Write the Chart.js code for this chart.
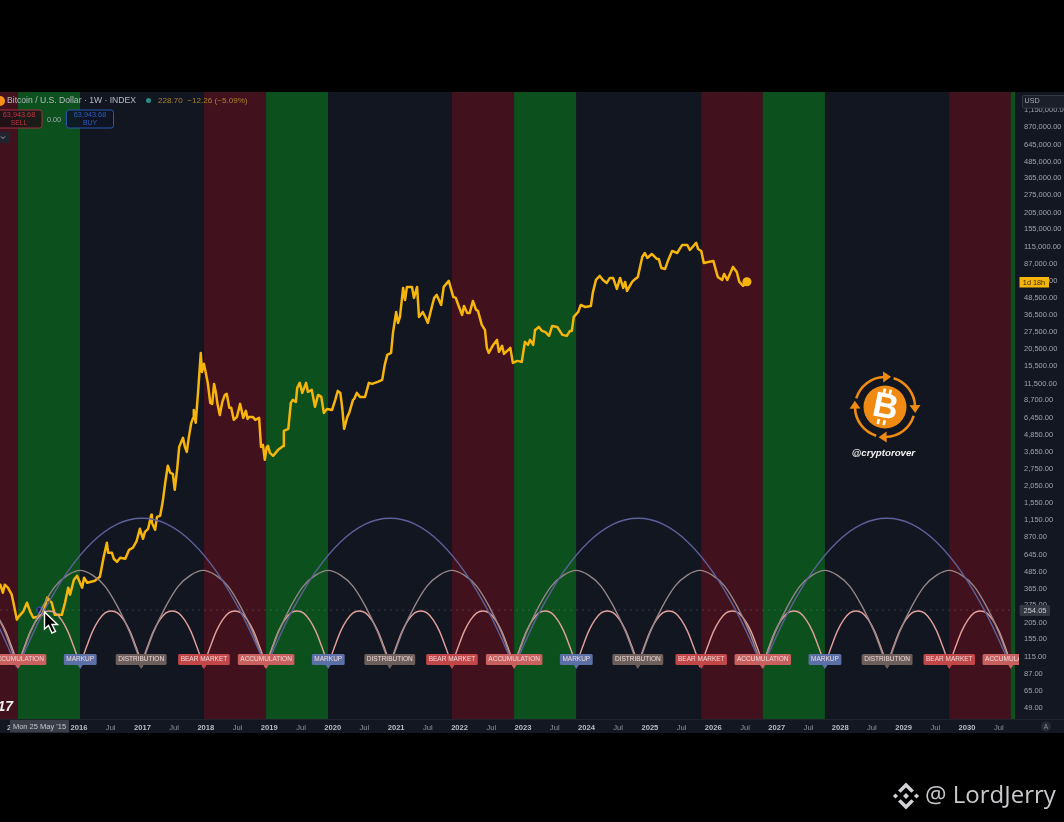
<!DOCTYPE html>
<html>
<head>
<meta charset="utf-8">
<title>Bitcoin cycle chart</title>
<script src="https://cdn.jsdelivr.net/npm/chart.js@4/dist/chart.umd.js"></script>
<style>
    html, body { margin: 0; padding: 0; background: #000; overflow: hidden; }
    canvas { display: block; filter: blur(0.35px); }
</style>
</head>
<body>
<canvas id="cycleChart" width="1064" height="822"></canvas>
<script>

// weekly close
var priceYears = [2014.76,2014.80,2014.83,2014.88,2014.94,2014.98,2015.02,2015.05,2015.12,2015.18,2015.23,2015.28,2015.35,2015.42,2015.45,2015.50,2015.57,2015.62,2015.73,2015.78,2015.83,2015.86,2015.92,2015.97,2016.05,2016.08,2016.13,2016.25,2016.33,2016.39,2016.44,2016.46,2016.52,2016.55,2016.60,2016.65,2016.73,2016.79,2016.85,2016.91,2016.96,2017.01,2017.04,2017.09,2017.14,2017.15,2017.20,2017.23,2017.28,2017.32,2017.36,2017.40,2017.44,2017.48,2017.51,2017.55,2017.58,2017.64,2017.67,2017.70,2017.73,2017.77,2017.80,2017.81,2017.84,2017.88,2017.92,2017.94,2017.97,2018.00,2018.03,2018.07,2018.10,2018.13,2018.16,2018.18,2018.22,2018.26,2018.30,2018.33,2018.37,2018.40,2018.44,2018.49,2018.54,2018.59,2018.63,2018.66,2018.68,2018.74,2018.78,2018.84,2018.87,2018.90,2018.93,2018.96,2018.98,2019.01,2019.06,2019.14,2019.22,2019.23,2019.30,2019.34,2019.37,2019.42,2019.44,2019.48,2019.52,2019.58,2019.61,2019.67,2019.72,2019.77,2019.82,2019.86,2019.91,2019.99,2020.04,2020.08,2020.12,2020.15,2020.18,2020.23,2020.26,2020.32,2020.34,2020.38,2020.43,2020.51,2020.54,2020.57,2020.62,2020.71,2020.78,2020.82,2020.86,2020.92,2020.95,2021.00,2021.03,2021.06,2021.11,2021.14,2021.17,2021.25,2021.28,2021.33,2021.36,2021.42,2021.46,2021.50,2021.57,2021.60,2021.64,2021.71,2021.75,2021.83,2021.90,2021.94,2021.98,2022.04,2022.07,2022.12,2022.16,2022.21,2022.26,2022.29,2022.35,2022.40,2022.43,2022.46,2022.53,2022.59,2022.62,2022.67,2022.70,2022.80,2022.84,2022.91,2022.98,2023.03,2023.08,2023.11,2023.16,2023.19,2023.25,2023.30,2023.35,2023.41,2023.46,2023.54,2023.62,2023.69,2023.74,2023.77,2023.80,2023.87,2023.91,2023.98,2024.07,2024.10,2024.15,2024.21,2024.26,2024.32,2024.37,2024.42,2024.48,2024.53,2024.58,2024.61,2024.64,2024.72,2024.77,2024.81,2024.88,2024.92,2024.96,2025.03,2025.11,2025.14,2025.18,2025.24,2025.29,2025.35,2025.43,2025.51,2025.59,2025.63,2025.73,2025.76,2025.81,2025.85,2025.92,2026.00,2026.07,2026.14,2026.17,2026.22,2026.31,2026.37,2026.41,2026.47,2026.53];
var priceValues = [389,340,389,370,329,268,216,227,247,287,247,223,227,234,255,313,287,234,234,287,370,329,423,452,370,437,402,416,444,622,788,665,665,602,572,612,602,700,725,815,997,843,948,997,1262,1103,981,1220,1241,1571,2168,2883,2557,2515,1923,2788,3964,4615,3964,3645,4615,5942,6459,7390,5942,10350,19310,14020,16040,13785,11650,8320,8180,11450,9840,8320,6790,8460,9510,9680,7650,7650,6250,6570,8180,6460,7270,6350,6570,6570,6250,6460,3964,4100,3190,3964,4030,3584,3408,3770,4030,5190,5371,8320,8750,8460,10706,11650,9840,11650,10010,10350,7780,9510,9200,7026,7510,7390,8750,10180,9840,7650,5371,6570,7026,8750,8900,9840,9200,9200,10350,11650,11450,11845,12250,15770,18670,19310,27040,38480,31990,35370,57680,47100,58660,58660,48770,58660,35370,38480,35370,31990,43290,48770,51290,43290,58660,64890,49600,48770,43290,36580,42570,37840,37840,46310,39800,39130,30930,28440,21000,19310,22090,24030,19640,21720,18990,21000,16310,16870,16590,23240,22090,24030,22090,28440,29910,27960,27500,25710,30420,29910,26140,25710,27960,27960,35370,38480,43290,41820,42570,53050,66000,70590,66000,62750,68260,68260,56740,68260,57680,63800,54860,63800,67120,69420,97150,103900,95500,102200,93950,93950,80760,79400,92400,107500,103900,118950,118950,109300,123100,111200,107500,87850,89330,90850,69420,66000,73020,66000,82150,75500,63800,59700,63943.68];

// phase boundaries, one per quarter of a four year cycle
var phaseYears = [2015.04,2016.02,2016.98,2017.97,2018.95,2019.93,2020.90,2021.88,2022.86,2023.84,2024.81,2025.81,2026.78,2027.76,2028.74,2029.72,2030.69];
var phaseNames = ["ACCUMULATION","MARKUP","DISTRIBUTION","BEAR MARKET","ACCUMULATION","MARKUP","DISTRIBUTION","BEAR MARKET","ACCUMULATION","MARKUP","DISTRIBUTION","BEAR MARKET","ACCUMULATION","MARKUP","DISTRIBUTION","BEAR MARKET","ACCUMULATION"];

// coloured background bands
var bandStarts = [2014.755,2015.04,2016.02,2017.97,2018.95,2019.93,2021.88,2022.86,2023.84,2025.81,2026.78,2027.76,2029.72,2030.69];
var bandEnds = [2015.04,2016.02,2017.97,2018.95,2019.93,2021.88,2022.86,2023.84,2025.81,2026.78,2027.76,2029.72,2030.69,2030.756];
var bandKinds = ["red","green","dark","red","green","dark","red","green","dark","red","green","dark","red","green"];

// arc profile across one cycle, and the height read for each arc size
var arcFractions = [0,0.05,0.1,0.2,0.3,0.4,0.5,0.6,0.7,0.8,0.9,0.95,1];
var smallArcValues = [97,117,136,178,215,242,250,242,215,178,136,117,97];
var middleArcValues = [97,132,175,271,380,457,495,457,380,271,175,132,97];
var largeArcValues = [97,156,241,485,800,1080,1190,1080,800,485,241,156,97];

var lastPrice = 254.05;
var hoverYear = 2015.38;

var xTickYears = [2015,2015.5,2016,2016.5,2017,2017.5,2018,2018.5,2019,2019.5,2020,2020.5,2021,2021.5,2022,2022.5,2023,2023.5,2024,2024.5,2025,2025.5,2026,2026.5,2027,2027.5,2028,2028.5,2029,2029.5,2030,2030.5];
var xTickLabels = ["2015","Jul","2016","Jul","2017","Jul","2018","Jul","2019","Jul","2020","Jul","2021","Jul","2022","Jul","2023","Jul","2024","Jul","2025","Jul","2026","Jul","2027","Jul","2028","Jul","2029","Jul","2030","Jul"];
var yTickValues = [1150000,870000,645000,485000,365000,275000,205000,155000,115000,87000,65000,48500,36500,27500,20500,15500,11500,8700,6450,4850,3650,2750,2050,1550,1150,870,645,485,365,275,205,155,115,87,65,49];

var UI_FONT = "'Liberation Sans', Arial, sans-serif";
var bandColors = { red: "#41121d", green: "#0c501d", dark: "#121620" };
var labelColors = { "ACCUMULATION": "#c8605f", "MARKUP": "#5c70a8", "DISTRIBUTION": "#6c5e5b", "BEAR MARKET": "#c04648" };

// builds the points of repeated arcs, null between arcs so the curve breaks at each foot
function buildArcs(starts, period, values) {
    var points = [];
    starts.forEach(function (start) {
        arcFractions.forEach(function (f, i) {
            points.push({ x: start + f * period, y: values[i] });
        });
        points.push({ x: start + period, y: null });
    });
    return points;
}

function arcDataset(points, color) {
    return {
        data: points,
        borderColor: color,
        borderWidth: 1.4,
        pointRadius: 0,
        cubicInterpolationMode: "monotone",
        spanGaps: false
    };
}

function pick(list, step, offset) {
    return list.filter(function (v, i) { return i % step === (offset || 0); });
}

function roundRect(ctx, x, y, w, h, r) {
    ctx.beginPath();
    ctx.roundRect(x, y, w, h, r);
}

function drawText(ctx, text, x, y, font, color, align) {
    ctx.font = font;
    ctx.fillStyle = color;
    ctx.textAlign = align || "left";
    ctx.textBaseline = "middle";
    ctx.fillText(text, x, y);
}

var backgroundPlugin = {
    id: "background",
    beforeDraw: function (chart) {
        var ctx = chart.ctx;
        var area = chart.chartArea;
        var xScale = chart.scales.x;
        ctx.save();
        ctx.fillStyle = "#000";
        ctx.fillRect(0, 0, chart.width, chart.height);
        ctx.fillStyle = "#131722";
        ctx.fillRect(0, area.top, chart.width, area.bottom + 14 - area.top);
        bandStarts.forEach(function (start, i) {
            var x0 = xScale.getPixelForValue(start);
            var x1 = xScale.getPixelForValue(bandEnds[i]);
            ctx.fillStyle = bandColors[bandKinds[i]];
            ctx.fillRect(x0, area.top, x1 - x0, area.bottom - area.top);
        });
        ctx.fillStyle = "#1f232d";
        ctx.fillRect(0, area.bottom, chart.width, 1);
        ctx.restore();
    }
};

var phaseLabelPlugin = {
    id: "phaseLabels",
    afterDatasetsDraw: function (chart) {
        var ctx = chart.ctx;
        var xScale = chart.scales.x;
        var y = 654;
        ctx.save();
        ctx.beginPath();
        ctx.rect(0, chart.chartArea.top, 1019, chart.chartArea.bottom - chart.chartArea.top);
        ctx.clip();
        ctx.font = "6.5px " + UI_FONT;
        phaseYears.forEach(function (year, i) {
            var name = phaseNames[i];
            var cx = xScale.getPixelForValue(year);
            var w = ctx.measureText(name).width + 5;
            ctx.fillStyle = labelColors[name];
            roundRect(ctx, cx - w / 2, y, w, 11, 1.5);
            ctx.fill();
            ctx.beginPath();
            ctx.moveTo(cx - 2.5, y + 11);
            ctx.lineTo(cx + 2.5, y + 11);
            ctx.lineTo(cx, y + 15);
            ctx.closePath();
            ctx.fill();
            drawText(ctx, name, cx, y + 5.7, "6.5px " + UI_FONT, "#eed9d8", "center");
        });
        ctx.restore();
    }
};

function drawHeader(ctx) {
    ctx.fillStyle = "#f7931a";
    ctx.beginPath();
    ctx.arc(0, 101, 5, 0, Math.PI * 2);
    ctx.fill();
    drawText(ctx, "Bitcoin / U.S. Dollar · 1W · INDEX", 7, 101, "8.6px " + UI_FONT, "#b7bac2");
    ctx.fillStyle = "#2b8c86";
    ctx.beginPath();
    ctx.arc(148.5, 100.5, 2.5, 0, Math.PI * 2);
    ctx.fill();
    drawText(ctx, "228.70  −12.26 (−5.09%)", 158, 101, "8.1px " + UI_FONT, "#a8832c");

    ctx.lineWidth = 1;
    ctx.strokeStyle = "#a5303c";
    ctx.fillStyle = "rgba(30,18,24,0.85)";
    roundRect(ctx, -3, 110, 45, 18, 2.5);
    ctx.fill();
    ctx.stroke();
    drawText(ctx, "63,943.68", 19, 115, "7.3px " + UI_FONT, "#c23642", "center");
    drawText(ctx, "SELL", 19, 123, "6.8px " + UI_FONT, "#c23642", "center");
    drawText(ctx, "0.00", 54, 119.5, "7.3px " + UI_FONT, "#a5a8b0", "center");
    ctx.strokeStyle = "#2a56b0";
    ctx.fillStyle = "rgba(14,20,36,0.85)";
    roundRect(ctx, 66.5, 110, 47, 18, 2.5);
    ctx.fill();
    ctx.stroke();
    drawText(ctx, "63,943.68", 90, 115, "7.3px " + UI_FONT, "#2f5fc0", "center");
    drawText(ctx, "BUY", 90, 123, "6.8px " + UI_FONT, "#2f5fc0", "center");

    ctx.fillStyle = "#20242e";
    roundRect(ctx, -3, 132, 13, 11, 1.5);
    ctx.fill();
    ctx.strokeStyle = "#a5a8b0";
    ctx.beginPath();
    ctx.moveTo(1, 136.5);
    ctx.lineTo(3, 138.5);
    ctx.lineTo(5, 136.5);
    ctx.stroke();
}

function drawAxisBoxes(ctx) {
    ctx.fillStyle = "#1b1f29";
    ctx.strokeStyle = "#343843";
    ctx.lineWidth = 1;
    roundRect(ctx, 1022.5, 95.5, 44, 12.5, 1.5);
    ctx.fill();
    ctx.stroke();
    drawText(ctx, "USD", 1024.5, 101.5, "7.2px " + UI_FONT, "#a5a8b0");

    ctx.fillStyle = "#f5b50a";
    ctx.fillRect(1019.5, 277, 29.5, 10.5);
    drawText(ctx, "1d 18h", 1034, 282.5, "7.3px " + UI_FONT, "#3a2c00", "center");

    ctx.fillStyle = "#343843";
    roundRect(ctx, 1019.5, 605, 30.5, 11, 1.5);
    ctx.fill();
    drawText(ctx, "254.05", 1035, 610.7, "7.5px " + UI_FONT, "#c9ccd3", "center");

    ctx.fillStyle = "#3a3e49";
    ctx.fillRect(10, 720, 59, 12.5);
    drawText(ctx, "Mon 25 May '15", 39.5, 726.8, "7.5px " + UI_FONT, "#c4c7ce", "center");

    ctx.fillStyle = "#262a34";
    ctx.beginPath();
    ctx.arc(1046, 726.5, 5, 0, Math.PI * 2);
    ctx.fill();
    drawText(ctx, "A", 1046, 727, "6.5px " + UI_FONT, "#8d919b", "center");

    drawText(ctx, "17", 13, 707.5, "italic bold 14px " + UI_FONT, "#f0f0f0", "right");
}

function drawCursor(ctx) {
    ctx.save();
    ctx.translate(44.5, 612);
    ctx.beginPath();
    ctx.moveTo(0, 0);
    ctx.lineTo(0, 17);
    ctx.lineTo(4, 13.5);
    ctx.lineTo(7.5, 21);
    ctx.lineTo(11, 19.5);
    ctx.lineTo(7.5, 12.5);
    ctx.lineTo(13, 12.5);
    ctx.closePath();
    ctx.fillStyle = "#000";
    ctx.strokeStyle = "#fff";
    ctx.lineWidth = 1.4;
    ctx.fill();
    ctx.stroke();
    ctx.restore();
}

function drawBadge(ctx) {
    var cx = 885;
    var cy = 407;
    var r = 30;
    var orange = "#ef8b12";
    ctx.save();
    ctx.fillStyle = orange;
    ctx.beginPath();
    ctx.arc(cx, cy, 21.5, 0, Math.PI * 2);
    ctx.fill();

    // four ring arrows going clockwise
    [-1.6, -0.03, 1.55, 3.12].forEach(function (end) {
        var a0 = end - 1.25;
        ctx.strokeStyle = orange;
        ctx.lineWidth = 2.6;
        ctx.beginPath();
        ctx.arc(cx, cy, r, a0, end);
        ctx.stroke();
        ctx.save();
        ctx.translate(cx + r * Math.cos(end), cy + r * Math.sin(end));
        ctx.rotate(end + Math.PI / 2);
        ctx.fillStyle = orange;
        ctx.beginPath();
        ctx.moveTo(7, 0);
        ctx.lineTo(-1, -5.5);
        ctx.lineTo(-1, 5.5);
        ctx.closePath();
        ctx.fill();
        ctx.restore();
    });

    ctx.translate(cx, cy);
    ctx.rotate(0.2);
    ctx.fillStyle = "#fff";
    ctx.font = "bold 35px " + UI_FONT;
    ctx.textAlign = "center";
    ctx.textBaseline = "middle";
    ctx.fillText("B", 0.5, 1);
    ctx.fillRect(-5, -18, 2.6, 5);
    ctx.fillRect(1, -18, 2.6, 5);
    ctx.fillRect(-5, 13, 2.6, 5);
    ctx.fillRect(1, 13, 2.6, 5);
    ctx.restore();

    drawText(ctx, "@cryptorover", 883.5, 453.5, "italic bold 9.7px " + UI_FONT, "#f2f2f2", "center");
}

function drawWatermark(ctx) {
    var cx = 906;
    var cy = 796;
    var c = "#d2d2d6";
    ctx.save();
    ctx.fillStyle = c;
    [[-10.5, 0, 2.6], [10.5, 0, 2.6], [0, 0, 3]].forEach(function (d) {
        ctx.beginPath();
        ctx.moveTo(cx + d[0], cy + d[1] - d[2]);
        ctx.lineTo(cx + d[0] + d[2], cy + d[1]);
        ctx.lineTo(cx + d[0], cy + d[1] + d[2]);
        ctx.lineTo(cx + d[0] - d[2], cy + d[1]);
        ctx.closePath();
        ctx.fill();
    });
    [-1, 1].forEach(function (s) {
        ctx.beginPath();
        ctx.moveTo(cx, cy + s * 13.5);
        ctx.lineTo(cx + 8, cy + s * 5.5);
        ctx.lineTo(cx + 5.3, cy + s * 3.2);
        ctx.lineTo(cx, cy + s * 8.5);
        ctx.lineTo(cx - 5.3, cy + s * 3.2);
        ctx.lineTo(cx - 8, cy + s * 5.5);
        ctx.closePath();
        ctx.fill();
    });
    ctx.restore();
    drawText(ctx, "@ LordJerry", 925, 796, "24px 'Open Sans', sans-serif", "#c9c9cd");
}

var overlayPlugin = {
    id: "overlay",
    afterDraw: function (chart) {
        var ctx = chart.ctx;
        ctx.save();
        drawHeader(ctx);
        drawAxisBoxes(ctx);
        drawCursor(ctx);
        drawBadge(ctx);
        drawWatermark(ctx);
        ctx.restore();
    }
};

var largeStarts = [phaseYears[0] - 3.93].concat(pick(phaseYears, 4));
var middleStarts = [phaseYears[0] - 1.965].concat(pick(phaseYears, 2));
var smallStarts = [phaseYears[0] - 0.98].concat(phaseYears.slice(0, -1));

var chartConfig = {
    type: "line",
    data: {
        datasets: [
            arcDataset(buildArcs(largeStarts.slice(0, 5), 3.91, largeArcValues), "#5d6099"),
            arcDataset(buildArcs(middleStarts.slice(0, 9), 1.955, middleArcValues), "#978689"),
            arcDataset(buildArcs(smallStarts, 0.978, smallArcValues), "#e3a19c"),
            {
                data: [{ x: 2014.755, y: lastPrice }, { x: 2030.756, y: lastPrice }],
                borderColor: "rgba(150,152,165,0.28)",
                borderWidth: 1,
                borderDash: [2, 4],
                pointRadius: 0
            },
            {
                data: priceYears.map(function (year, i) {
                    return { x: year, y: priceValues[i] };
                }),
                borderColor: "#f7b50c",
                backgroundColor: "#f7b50c",
                borderWidth: 2.5,
                borderJoinStyle: "round",
                borderCapStyle: "round",
                tension: 0,
                pointRadius: function (c) {
                    return c.dataIndex === priceYears.length - 1 ? 3.3 : 0;
                }
            },
            {
                data: [{ x: hoverYear, y: lastPrice }],
                borderColor: "#2a4aa8",
                backgroundColor: "#131d4a",
                borderWidth: 1.2,
                pointRadius: 2.8
            }
        ]
    },
    options: {
        responsive: false,
        animation: false,
        events: [],
        layout: { autoPadding: false, padding: { top: 92, bottom: 89, left: 0, right: 0 } },
        plugins: { legend: { display: false }, tooltip: { enabled: false } },
        scales: {
            x: {
                type: "linear",
                bounds: "data",
                min: 2014.755,
                max: 2030.756,
                grid: { display: false, drawTicks: false },
                border: { display: false },
                afterBuildTicks: function (scale) {
                    scale.ticks = xTickYears.map(function (v) { return { value: v }; });
                },
                afterFit: function (scale) {
                    scale.height = 14;
                    scale.paddingLeft = 0;
                    scale.paddingRight = 0;
                },
                ticks: {
                    autoSkip: false,
                    maxRotation: 0,
                    padding: 4,
                    callback: function (value) {
                        return xTickLabels[xTickYears.indexOf(value)];
                    },
                    font: function (c) {
                        var isYear = c.tick && c.tick.value % 1 === 0;
                        return { family: UI_FONT, size: 7.6, weight: isYear ? "bold" : "normal" };
                    },
                    color: function (c) {
                        return c.tick && c.tick.value % 1 === 0 ? "#b9bcc4" : "#8d919b";
                    }
                }
            },
            y: {
                type: "logarithmic",
                position: "right",
                bounds: "data",
                min: 40.5,
                max: 1564000,
                grid: { display: false, drawTicks: false },
                border: { display: false },
                afterBuildTicks: function (scale) {
                    scale.ticks = yTickValues.map(function (v) { return { value: v }; });
                },
                afterFit: function (scale) {
                    scale.width = 49;
                    scale.paddingTop = 0;
                    scale.paddingBottom = 0;
                },
                ticks: {
                    autoSkip: false,
                    padding: 9,
                    color: "#a0a3ac",
                    font: { family: UI_FONT, size: 7.5 },
                    callback: function (value) {
                        return Number(value).toLocaleString("en-US", { minimumFractionDigits: 2, maximumFractionDigits: 2 });
                    }
                }
            }
        }
    },
    plugins: [backgroundPlugin, phaseLabelPlugin, overlayPlugin]
};

new Chart(document.getElementById("cycleChart").getContext("2d"), chartConfig);

</script>
</body>
</html>
